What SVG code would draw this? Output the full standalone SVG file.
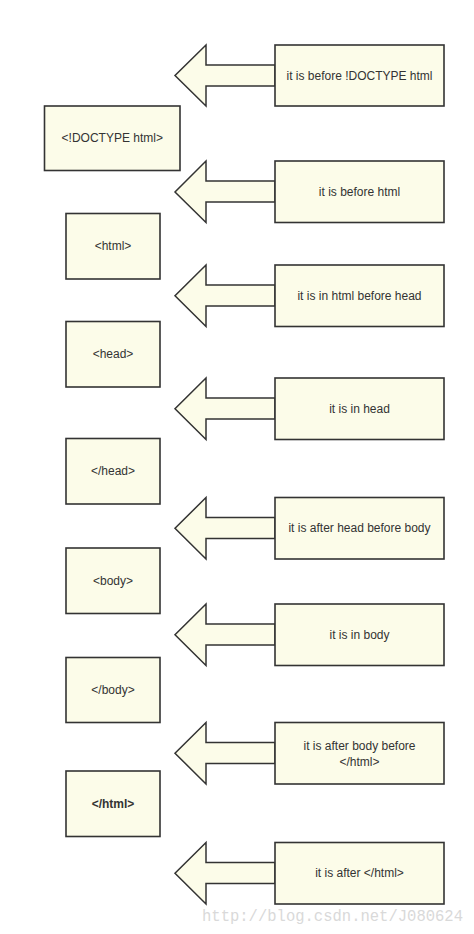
<svg xmlns="http://www.w3.org/2000/svg" width="474" height="934" viewBox="0 0 474 934">
<style>
.box{fill:#fcfce9;stroke:#333;stroke-width:1.6}
.arr{fill:#fcfce9;stroke:#333;stroke-width:1.5;stroke-linejoin:miter}
.t{font-family:"Liberation Sans",Arial,sans-serif;font-size:12px;fill:#333;text-anchor:middle}
.b{font-weight:bold}
.wm{font-family:"Liberation Mono","Courier New",monospace;font-size:16px;fill:#d9d9d9}
</style>
<rect width="474" height="934" fill="#fff"/>
<g id="connectors">
<polygon class="arr" points="275,65 206,65 206,45 175,75.5 206,106 206,86 275,86"/>
<polygon class="arr" points="275,181 206,181 206,161 175,192 206,222.5 206,202 275,202"/>
<polygon class="arr" points="275,285 206,285 206,265 175,295.7 206,326.5 206,306 275,306"/>
<polygon class="arr" points="275,398 206,398 206,378 175,408.7 206,439.5 206,419 275,419"/>
<polygon class="arr" points="275,517.5 206,517.5 206,497.5 175,528.3 206,559 206,538.5 275,538.5"/>
<polygon class="arr" points="275,624 206,624 206,604 175,634.7 206,665.5 206,645 275,645"/>
<polygon class="arr" points="275,742.5 206,742.5 206,722.5 175,753.2 206,784 206,763.5 275,763.5"/>
<polygon class="arr" points="275,862.5 206,862.5 206,842.5 175,873.2 206,904 206,883.5 275,883.5"/>
</g>
<g id="r1"><rect class="box" x="275" y="45" width="169" height="61"/><text class="t" x="359.5" y="79.5">it is before !DOCTYPE html</text></g>
<g id="r2"><rect class="box" x="275" y="161" width="169" height="61.5"/><text class="t" x="359.5" y="196">it is before html</text></g>
<g id="r3"><rect class="box" x="275" y="265" width="169" height="61.5"/><text class="t" x="359.5" y="299.7">it is in html before head</text></g>
<g id="r4"><rect class="box" x="275" y="378" width="169" height="61.5"/><text class="t" x="359.5" y="412.7">it is in head</text></g>
<g id="r5"><rect class="box" x="275" y="497.5" width="169" height="61.5"/><text class="t" x="359.5" y="532.3">it is after head before body</text></g>
<g id="r6"><rect class="box" x="275" y="604" width="169" height="61.5"/><text class="t" x="359.5" y="638.7">it is in body</text></g>
<g id="r7"><rect class="box" x="275" y="722.5" width="169" height="61.5"/><text class="t" x="359.5" y="750">it is after body before</text><text class="t" x="359.5" y="765.7">&lt;/html&gt;</text></g>
<g id="r8"><rect class="box" x="275" y="842.5" width="169" height="61.5"/><text class="t" x="359.5" y="877.2">it is after &lt;/html&gt;</text></g>
<g id="doctype"><rect class="box" x="44.5" y="106" width="135.5" height="64.5"/><text class="t" x="112.3" y="142.3">&lt;!DOCTYPE html&gt;</text></g>
<g id="html"><rect class="box" x="66" y="213.5" width="94" height="65.5"/><text class="t" x="113" y="250.3">&lt;html&gt;</text></g>
<g id="head"><rect class="box" x="66" y="321.5" width="94" height="65.5"/><text class="t" x="113" y="358.3">&lt;head&gt;</text></g>
<g id="headclose"><rect class="box" x="66" y="438.5" width="94" height="65.5"/><text class="t" x="113" y="475.3">&lt;/head&gt;</text></g>
<g id="body"><rect class="box" x="66" y="548" width="94" height="65.5"/><text class="t" x="113" y="584.8">&lt;body&gt;</text></g>
<g id="bodyclose"><rect class="box" x="66" y="657.5" width="94" height="65"/><text class="t" x="113" y="694">&lt;/body&gt;</text></g>
<g id="htmlclose"><rect class="box" x="66" y="771" width="94" height="65.5"/><text class="t b" x="113" y="807.8">&lt;/html&gt;</text></g>
<text class="wm" x="202" y="921" textLength="261" lengthAdjust="spacingAndGlyphs">http://blog.csdn.net/J080624</text>
</svg>
